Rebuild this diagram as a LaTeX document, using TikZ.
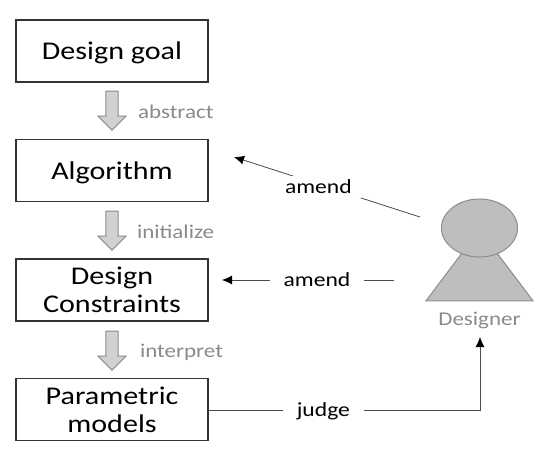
\documentclass[tikz,border=0pt]{standalone}
\usepackage{fontspec}
\setmainfont[FakeStretch=1.18]{Carlito}
\usepackage{color}
\usetikzlibrary{arrows.meta}
\usetikzlibrary{shapes.geometric}
\usetikzlibrary{shapes.arrows}
\definecolor{shapegray}{HTML}{BEBEBE}
\definecolor{edgegray}{HTML}{8C8C8C}
\definecolor{textgray}{HTML}{8A8A8A}
\begin{document}
\begin{tikzpicture}[x=1pt, y=-1pt, node distance={119.5pt},
    main/.style = {draw=black!80, line width=1.2pt, minimum width=192pt, minimum height=62pt, align=center, font=\fontsize{25.5}{28}\selectfont, inner sep=0pt, execute at begin node={\rule{0pt}{22pt}}},
    down/.style = {draw=edgegray, fill=black!18, line width=1pt, single arrow, shape border rotate=270, minimum height=39pt, minimum width=28pt, single arrow head extend=7.5pt, single arrow tip angle=90, inner sep=0pt, text width=11pt},
    step label/.style = {text=textgray, font=\fontsize{19.5}{23}\selectfont},
    link label/.style = {fill=white, inner xsep=14pt, inner ysep=1pt, text height=12pt, text depth=0pt, font=\fontsize{20}{24}\selectfont},
    link/.style = {{Latex[length=10pt,width=9pt,black]}-, draw=black!70, line width=0.8pt}]
            \useasboundingbox (0,0) rectangle (550,463);

            \node[main] (goal) at (112,51) {Design goal};
            \node[main] (algo) [below of=goal] {Algorithm};
            \node[main] (cons) [below of=algo] {Design\\Constraints};
            \node[main] (model) [below of=cons] {Parametric\\models};

            \node[down] (a1) at (112,107.5) {};
            \node[down] (a2) at (112,227.5) {};
            \node[down] (a3) at (112,347.5) {};

            \node[step label, anchor=west] (abstract) at (134.5,112) {abstract};
            \node[step label, anchor=west] (init) at (133.5,232) {initialize};
            \node[step label, anchor=west] (interp) at (136.5,352) {interpret};

            % the figure: body first, head on top
            \node[draw=edgegray, fill=shapegray, line width=1pt, isosceles triangle, isosceles triangle apex angle=74, shape border rotate=90, minimum height=71pt, inner sep=0pt, anchor=apex] (body) at (479.5,229) {};
            \node[draw=edgegray, fill=shapegray, line width=1pt, ellipse, minimum width=76pt, minimum height=58pt, inner sep=0pt] (head) at (479.5,228) {};
            \node[step label] (designer) at (479.5,320) {Designer};

            \coordinate (from1) at (420,217);
            \coordinate (to1) at (234,157);
            \coordinate (from2) at (394,280);
            \coordinate (to2) at (222,280);
            \coordinate (to3) at (480,337);
            \coordinate (bend3) at (480,410);

            \path[link] (to1) -- node[link label, pos=0.4785, yshift=-1.3pt, inner xsep=0pt, text width=76pt, align=left, minimum height=22pt] (amend1) {amend} (from1);
            \path[link] (to2) -- node[link label, pos=0.552] (amend2) {amend} (from2);
            \path[link] (to3) -- (bend3) -- node[link label, pos=0.577] (judge) {judge} (model.east |- bend3);
        \end{tikzpicture}
\end{document}
